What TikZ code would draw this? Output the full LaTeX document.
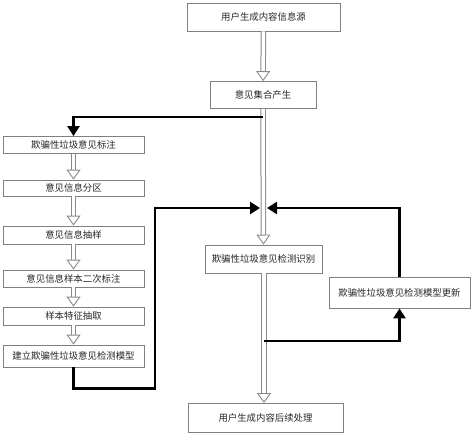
\documentclass[tikz,border=0pt]{standalone}
\usepackage{fontspec}
\newfontfamily\cjk{Noto Sans CJK SC}
\usetikzlibrary{arrows.meta}
\definecolor{BoxGray}{HTML}{808080}
\definecolor{ArrowGray}{HTML}{8A8A8A}

\begin{document}
\begin{tikzpicture}[
    x=1pt, y=-1pt,
    every node/.style={
        rectangle,
        draw=BoxGray,
        line width=0.8pt,
        inner sep=0pt,
        font=\cjk\fontsize{9.4pt}{11pt}\selectfont,
        text=black!85
    },
    hollow/.style={
        draw=ArrowGray,
        line width=1pt,
        double=white,
        double distance=3.5pt,
        -{Triangle[open, width=14pt, length=10pt, line width=0.9pt]}
    },
    thick loop/.style={
        draw=black,
        line width=2.6pt,
        -{Triangle[width=12pt, length=10pt]}
    }
]
\useasboundingbox (0,0) rectangle (474,437);

% main column
\node[minimum width=153pt, minimum height=28pt] (source) at (263.5,17) {用户生成内容信息源};
\node[minimum width=106pt, minimum height=27pt] (gather) at (263,95) {意见集合产生};
\node[minimum width=117pt, minimum height=28pt] (detect) at (263.5,259) {欺骗性垃圾意见检测识别};
\node[minimum width=155pt, minimum height=29pt] (after) at (265.5,417.5) {用户生成内容后续处理};
\node[minimum width=141pt, minimum height=31pt] (update) at (399.5,292.5) {欺骗性垃圾意见检测模型更新};

% left column
\node[minimum width=141pt, minimum height=17pt] (mark) at (73.5,145) {欺骗性垃圾意见标注};
\node[minimum width=141pt, minimum height=16pt] (part) at (73.5,188) {意见信息分区};
\node[minimum width=141pt, minimum height=18pt] (sample) at (73.5,235) {意见信息抽样};
\node[minimum width=141pt, minimum height=17pt] (remark) at (73.5,278.5) {意见信息样本二次标注};
\node[minimum width=141pt, minimum height=18pt] (feature) at (73.5,316) {样本特征抽取};
\node[minimum width=141pt, minimum height=22pt] (model) at (73.5,356) {建立欺骗性垃圾意见检测模型};

\coordinate (tap1) at (263,117);
\coordinate (joinL) at (260,208);
\coordinate (joinR) at (267,208);
\coordinate (tap2) at (264,341);
\coordinate (outTop) at (264,273);
\coordinate (outEnd) at (264,403);

\draw[hollow] (source) -- (gather);
\draw[hollow] (gather) -- (detect);
\draw[hollow] (outTop) -- (outEnd);

\draw[hollow] (mark) -- (part);
\draw[hollow] (part) -- (sample);
\draw[hollow] (sample) -- (remark);
\draw[hollow] (remark) -- (feature);
\draw[hollow] (feature) -- (model);

\draw[thick loop] (tap1) -| (mark.north);
\draw[thick loop] (model.south) -- ++(0,21) -| (155,208) -- (joinL);
\draw[thick loop] (update.north) |- (joinR);
\draw[thick loop] (tap2) -| (update.south);

\end{tikzpicture}
\end{document}
